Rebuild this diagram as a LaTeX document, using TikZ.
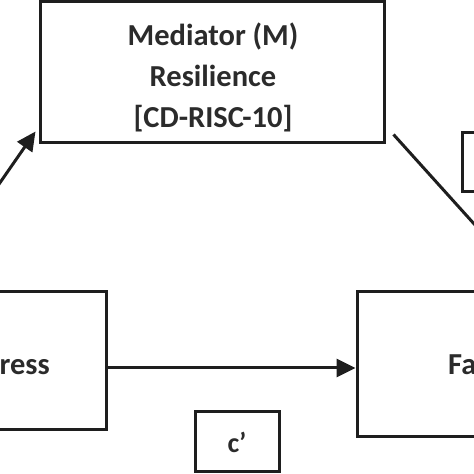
\documentclass[tikz,border=0pt]{standalone}
\usepackage{fontspec}
\setmainfont{Carlito}
\usepackage{xcolor}
\usetikzlibrary{arrows.meta}
\definecolor{inkline}{HTML}{1E1E1E}
\definecolor{inktext}{HTML}{2B2B2B}
\tikzset{
  varbox/.style={draw=inkline,line width=3pt,inner sep=0pt},
  vartext/.style={text=inktext,font=\bfseries\fontsize{30.5}{41}\selectfont},
  pathlbl/.style={varbox,font=\bfseries\fontsize{28}{34}\selectfont,text=inktext},
  arr/.style={draw=inkline,line width=3pt,-{Triangle[length=19pt,width=18pt]}}
}
\begin{document}
\begin{tikzpicture}[x=1pt,y=1pt]
                \useasboundingbox (0,0) rectangle (474,474);
                \clip (0,0) rectangle (474,474);
                \node[varbox,minimum width=344pt,minimum height=141pt] (med) at (212,401.5) {};
                \node[vartext,align=center,inner sep=0pt] (medlbl) at ([xshift=1pt,yshift=-5pt]med.center) {Mediator (M)\\Resilience\\{[CD-RISC-10]}};
                \node[varbox,minimum width=256pt,minimum height=138pt] (xbox) at (-22,113) {};
                \node[varbox,minimum width=240pt,minimum height=145pt] (ybox) at (477,109.5) {};
                \node[vartext,anchor=base east,inner sep=0pt] (xlbl) at (50,99) {ress};
                \node[vartext,anchor=base west,inner sep=0pt] (ylbl) at (448,99) {Fa};
                \node[varbox,minimum width=80pt,minimum height=59pt] (bbox) at (502,311.5) {};
                \node[pathlbl,minimum width=84pt,minimum height=60pt] (cbox) at (237,32) {c’};
                \coordinate (atail) at (-37,238);
                \coordinate (bhead) at (558,157);
                \draw[arr] (atail) -- ([xshift=-3pt,yshift=13pt]med.south west);
                \draw[arr] ([xshift=8pt,yshift=10pt]med.south east) -- (bhead);
                \draw[arr] ([yshift=-7pt]xbox.east) -- ([yshift=-3.5pt]ybox.west);
            \end{tikzpicture}
\end{document}
